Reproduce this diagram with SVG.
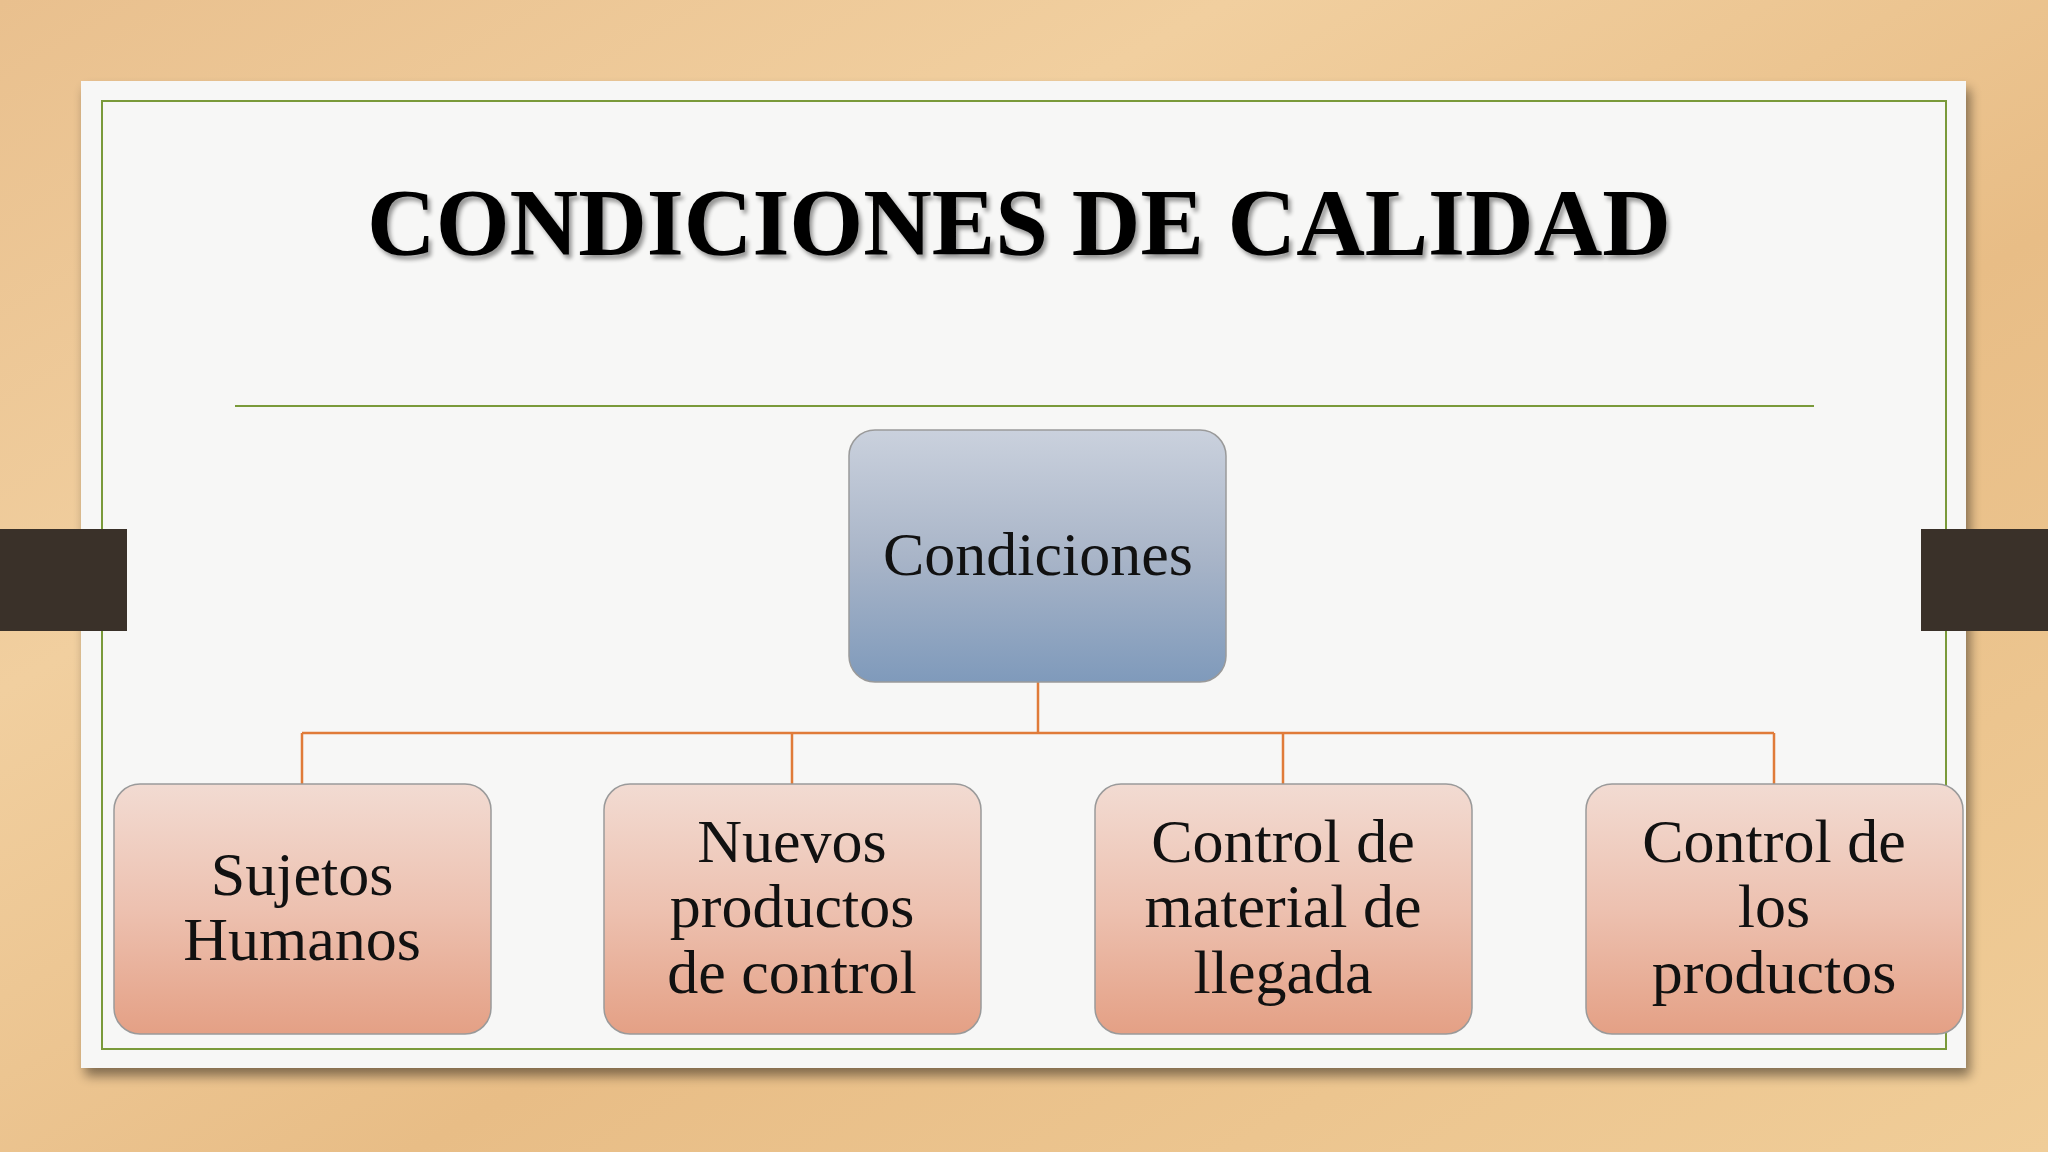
<svg xmlns="http://www.w3.org/2000/svg" width="2048" height="1152" viewBox="0 0 2048 1152">
<defs>
<linearGradient id="wood" x1="0" y1="0" x2="1" y2="1">
<stop offset="0" stop-color="#e9c08e"/>
<stop offset="0.3" stop-color="#f1cf9f"/>
<stop offset="0.6" stop-color="#e8bd86"/>
<stop offset="1" stop-color="#f0cd98"/>
</linearGradient>
<linearGradient id="gTop" x1="0" y1="0" x2="0" y2="1">
<stop offset="0" stop-color="#cad1dd"/>
<stop offset="0.5" stop-color="#a9b5c8"/>
<stop offset="1" stop-color="#7f9abb"/>
</linearGradient>
<linearGradient id="gChild" x1="0" y1="0" x2="0" y2="1">
<stop offset="0" stop-color="#f2dbd2"/>
<stop offset="0.5" stop-color="#edc1b0"/>
<stop offset="1" stop-color="#e4a085"/>
</linearGradient>
<filter id="shadow" x="-5%" y="-5%" width="110%" height="115%">
<feGaussianBlur in="SourceAlpha" stdDeviation="6"/>
<feOffset dx="4" dy="8" result="b"/>
<feComponentTransfer><feFuncA type="linear" slope="0.45"/></feComponentTransfer>
<feMerge><feMergeNode/><feMergeNode in="SourceGraphic"/></feMerge>
</filter>
<filter id="tshadow" x="-5%" y="-20%" width="110%" height="150%">
<feGaussianBlur in="SourceAlpha" stdDeviation="2"/>
<feOffset dx="3" dy="4" result="b"/>
<feComponentTransfer><feFuncA type="linear" slope="0.4"/></feComponentTransfer>
<feMerge><feMergeNode/><feMergeNode in="SourceGraphic"/></feMerge>
</filter>
</defs>
<style>
.node { stroke: #9a9a9a; stroke-width: 1.5; }
.lbl { font-family: "Liberation Serif", "Times New Roman", serif; font-size: 62px; fill: #111; text-anchor: middle; }
.conn { stroke: #e07b39; stroke-width: 2.5; fill: none; }
.green { stroke: #7a9a3a; stroke-width: 2; fill: none; }
.bar { fill: #3a3129; }
</style>
<rect x="0" y="0" width="2048" height="1152" fill="url(#wood)"/>
<rect x="81" y="81" width="1885" height="987" fill="#f7f7f6" filter="url(#shadow)"/>
<rect x="102" y="101" width="1844" height="948" class="green"/>
<rect x="0" y="529" width="127" height="102" class="bar"/>
<rect x="1921" y="529" width="127" height="102" class="bar"/>
<text x="1019" y="255" font-family="'Liberation Serif', 'Times New Roman', serif" font-size="95" font-weight="bold" fill="#000" text-anchor="middle" filter="url(#tshadow)">CONDICIONES DE CALIDAD</text>
<line x1="235" y1="406" x2="1814" y2="406" class="green"/>
<g id="connectors">
<path class="conn" d="M1038 682 V733 M302 733 H1774 M302 733 V784 M792 733 V784 M1283 733 V784 M1774 733 V784"/>
</g>
<g id="node-condiciones">
<rect x="849" y="430" width="377" height="252" rx="26" fill="url(#gTop)" class="node"/>
<text x="1038" y="575" class="lbl">Condiciones</text>
</g>
<g id="node-sujetos">
<rect x="114" y="784" width="377" height="250" rx="26" fill="url(#gChild)" class="node"/>
<text class="lbl"><tspan x="302" y="895">Sujetos</tspan><tspan x="302" y="960">Humanos</tspan></text>
</g>
<g id="node-nuevos">
<rect x="604" y="784" width="377" height="250" rx="26" fill="url(#gChild)" class="node"/>
<text class="lbl"><tspan x="792" y="862">Nuevos</tspan><tspan x="792" y="927">productos</tspan><tspan x="792" y="993">de control</tspan></text>
</g>
<g id="node-material">
<rect x="1095" y="784" width="377" height="250" rx="26" fill="url(#gChild)" class="node"/>
<text class="lbl"><tspan x="1283" y="862">Control de</tspan><tspan x="1283" y="927">material de</tspan><tspan x="1283" y="993">llegada</tspan></text>
</g>
<g id="node-productos">
<rect x="1586" y="784" width="377" height="250" rx="26" fill="url(#gChild)" class="node"/>
<text class="lbl"><tspan x="1774" y="862">Control de</tspan><tspan x="1774" y="927">los</tspan><tspan x="1774" y="993">productos</tspan></text>
</g>
</svg>
